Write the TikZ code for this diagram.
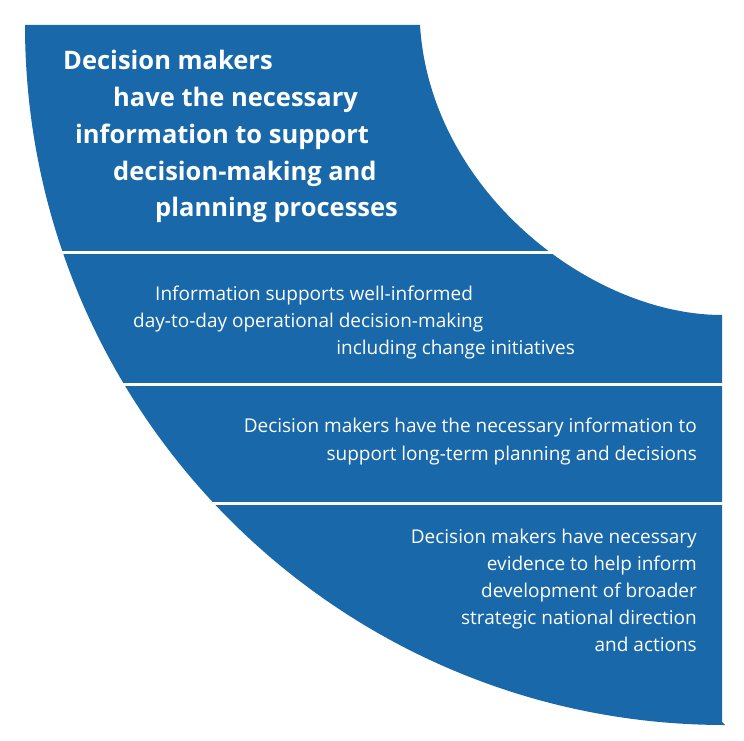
\documentclass[tikz,border=0pt]{standalone}
\usepackage{fontspec}
\setmainfont{Open Sans}
\definecolor{band}{RGB}{24,104,170}
\begin{document}
\begin{tikzpicture}[x=1pt,y=-1pt,
  big/.style={inner sep=0pt,text=white,font=\fontsize{25.5}{25.5}\selectfont\bfseries},
  small/.style={inner sep=0pt,text=white,font=\fontsize{19}{19}\selectfont},
  gap/.style={white,line width=3pt}]
\useasboundingbox (0,0) rectangle (744,741);
\fill[band] (25,25) -- (420,25) .. controls (430,190) and (590,315) .. (722,315)
  -- (722,722) -- (725,725) arc[start angle=270,end angle=180,x radius=700,y radius=-700] -- cycle;
\draw[gap] (40,252) -- (740,252);
\draw[gap] (40,384) -- (740,384);
\draw[gap] (40,503) -- (740,503);
\node[big,anchor=base west] (t1) at (63,70) {Decision makers};
\node[big,anchor=base west] (t2) at (113,107) {have the necessary};
\node[big,anchor=base west] (t3) at (75,143) {information to support};
\node[big,anchor=base west] (t4) at (113,180) {decision-making and};
\node[big,anchor=base west] (t5) at (155,216) {planning processes};
\node[small,anchor=base west] (a1) at (155,300) {Information supports well-informed};
\node[small,anchor=base west] (a2) at (133,327) {day-to-day operational decision-making};
\node[small,anchor=base east] (a3) at (575,354) {including change initiatives};
\node[small,anchor=base east] (b1) at (697,432) {Decision makers have the necessary information to};
\node[small,anchor=base east] (b2) at (697,460) {support long-term planning and decisions};
\node[small,anchor=base east] (c1) at (697,543) {Decision makers have necessary};
\node[small,anchor=base east] (c2) at (697,570) {evidence to help inform};
\node[small,anchor=base east] (c3) at (697,597) {development of broader};
\node[small,anchor=base east] (c4) at (697,624) {strategic national direction};
\node[small,anchor=base east] (c5) at (697,651) {and actions};
\end{tikzpicture}
\end{document}
